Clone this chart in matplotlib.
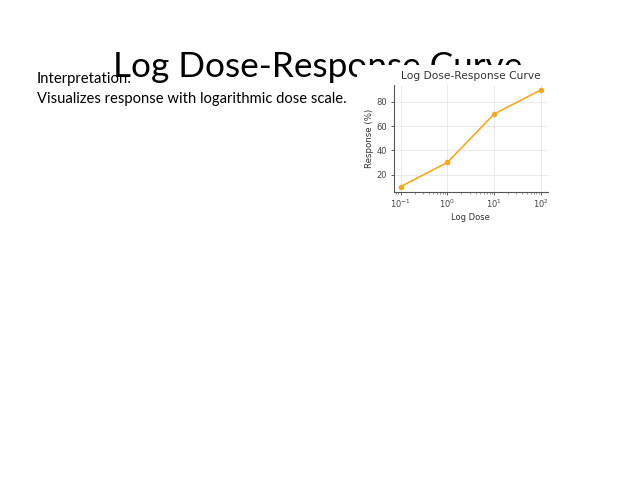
import matplotlib
matplotlib.use("Agg")
import matplotlib.pyplot as plt

# === DATA ===
doses = [0.1, 1, 10, 100]
responses = [10, 30, 70, 90]

slide_title = "Log Dose-Response Curve"
body_lines = ["Interpretation:", "Visualizes response with logarithmic dose scale."]
chart_title = "Log Dose-Response Curve"
x_label = "Log Dose"
y_label = "Response (%)"

W, H = 638, 478


def fx(px):
    return px / W


def fy(py):
    return 1 - py / H


def fit_width(txt, target_px, renderer):
    # shrink/grow font so the text spans target_px (Lato is wider than Calibri)
    w = txt.get_window_extent(renderer).width
    txt.set_fontsize(txt.get_fontsize() * target_px / w)


fig = plt.figure(figsize=(6.38, 4.78), dpi=100)
fig.patch.set_facecolor("white")
renderer = fig.canvas.get_renderer()

# slide text
t_title = fig.text(fx(317.5), fy(77), slide_title, ha="center", va="baseline",
                   fontsize=30, family="Lato", color="black", zorder=1)
t_b1 = fig.text(fx(37), fy(83), body_lines[0], ha="left", va="baseline",
                fontsize=11.5, family="Lato", color="black", zorder=1)
t_b2 = fig.text(fx(37), fy(103), body_lines[1], ha="left", va="baseline",
                fontsize=11.5, family="Lato", color="black", zorder=1)
fit_width(t_title, 409, renderer)
fit_width(t_b1, 95, renderer)
fit_width(t_b2, 308, renderer)

# white backing of the pasted chart picture (hides part of the title)
bg = fig.add_axes([fx(357), fy(225), fx(205), 160 / H], zorder=2)
bg.set_facecolor("white")
bg.set_xticks([])
bg.set_yticks([])
for s in bg.spines.values():
    s.set_visible(False)

# embedded chart
ax = fig.add_axes([fx(393.5), fy(191.5), fx(154.5), 106.5 / H], zorder=3)
ax.set_facecolor("white")
ax.plot(doses, responses, color="#F7A823", lw=1.2, marker="o", ms=3)
ax.set_xscale("log")
ax.set_title(chart_title, fontsize=7.7, color="#333333", pad=4)
ax.set_xlabel(x_label, fontsize=6, color="#333333", labelpad=2)
ax.set_ylabel(y_label, fontsize=6.2, color="#333333", labelpad=2)
ax.set_yticks([20, 40, 60, 80])
ax.grid(True, which="major", color="#e6e6e6", lw=0.6)
ax.tick_params(axis="both", which="major", labelsize=6, colors="#444444",
               length=2.5, width=0.6, pad=2)
ax.tick_params(axis="x", which="minor", length=1.5, width=0.5, colors="#666666")
for side in ["top", "right"]:
    ax.spines[side].set_visible(False)
for side in ["left", "bottom"]:
    ax.spines[side].set_color("#555555")
    ax.spines[side].set_linewidth(0.8)

fig.savefig("out.png", dpi=100, facecolor="white")
